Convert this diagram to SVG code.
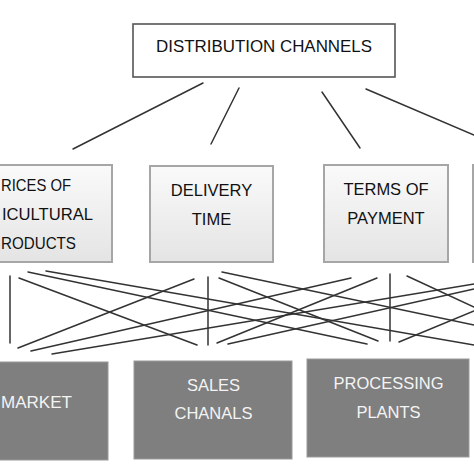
<svg xmlns="http://www.w3.org/2000/svg" width="474" height="474" viewBox="0 0 474 474">
  <defs>
    <linearGradient id="lg" x1="0" y1="0" x2="0" y2="1">
      <stop offset="0" stop-color="#fafafa"/>
      <stop offset="1" stop-color="#e4e4e4"/>
    </linearGradient>
    <style>
      .t { font-family: "Liberation Sans", Arial, sans-serif; font-size: 16.5px; fill: #111111; text-anchor: middle; }
      .ts { font-family: "Liberation Sans", Arial, sans-serif; font-size: 16.5px; fill: #111111; text-anchor: start; }
      .tw { font-family: "Liberation Sans", Arial, sans-serif; font-size: 16.5px; fill: #f4f4f4; text-anchor: middle; }
      .top { fill: #ffffff; stroke: #555555; stroke-width: 1.6; }
      .mid { fill: url(#lg); stroke: #a6a6a6; stroke-width: 2; }
      .bot { fill: #7f7f7f; stroke: #9a9a9a; stroke-width: 1; }
      .c { stroke: #333333; stroke-width: 1.5; fill: none; stroke-linecap: round; }
    </style>
  </defs>
  <rect width="474" height="474" fill="#ffffff"/>

  <g id="connectors">
    <line class="c" x1="203" y1="83" x2="73" y2="149"/>
    <line class="c" x1="239" y1="88" x2="211" y2="144"/>
    <line class="c" x1="322" y1="92" x2="360" y2="148"/>
    <line class="c" x1="366" y1="89" x2="474" y2="135"/>

    <line class="c" x1="10" y1="276" x2="10" y2="343"/>
    <line class="c" x1="19" y1="278" x2="197" y2="345"/>
    <line class="c" x1="28" y1="272" x2="367" y2="344"/>
    <line class="c" x1="46" y1="271" x2="474" y2="345"/>
    <line class="c" x1="18" y1="348" x2="194" y2="279"/>
    <line class="c" x1="31" y1="351" x2="351" y2="278"/>
    <line class="c" x1="52" y1="354" x2="474" y2="284"/>

    <line class="c" x1="208" y1="277" x2="208" y2="345"/>
    <line class="c" x1="222" y1="272" x2="474" y2="325"/>
    <line class="c" x1="219" y1="278" x2="378" y2="341"/>
    <line class="c" x1="217" y1="343" x2="377" y2="278"/>
    <line class="c" x1="228" y1="344" x2="474" y2="289"/>

    <line class="c" x1="390" y1="274" x2="390" y2="341"/>
    <line class="c" x1="407" y1="276" x2="474" y2="307"/>
    <line class="c" x1="399" y1="342" x2="474" y2="311"/>
  </g>

  <g id="distribution-channels">
    <rect class="top" x="133" y="24" width="262" height="53"/>
    <text class="t" x="264" y="52" textLength="216" lengthAdjust="spacingAndGlyphs">DISTRIBUTION CHANNELS</text>
  </g>

  <g id="prices">
    <rect class="mid" x="-60" y="165" width="172" height="97"/>
    <text class="ts" x="1" y="191" textLength="70" lengthAdjust="spacingAndGlyphs">RICES OF</text>
    <text class="ts" x="2" y="220" textLength="91" lengthAdjust="spacingAndGlyphs">ICULTURAL</text>
    <text class="ts" x="1" y="249" textLength="75" lengthAdjust="spacingAndGlyphs">RODUCTS</text>
  </g>

  <g id="delivery-time">
    <rect class="mid" x="150" y="166" width="123" height="96"/>
    <text class="t" x="211.5" y="196">DELIVERY</text>
    <text class="t" x="211.5" y="225">TIME</text>
  </g>

  <g id="terms-of-payment">
    <rect class="mid" x="324" y="165" width="124" height="97"/>
    <text class="t" x="386" y="195">TERMS OF</text>
    <text class="t" x="386" y="224">PAYMENT</text>
  </g>

  <g id="fourth-factor">
    <rect class="mid" x="473" y="165" width="60" height="97"/>
  </g>

  <g id="market">
    <rect class="bot" x="-60" y="362" width="168" height="98"/>
    <text class="tw" x="1" y="408" style="text-anchor:start" textLength="71" lengthAdjust="spacingAndGlyphs">MARKET</text>
  </g>

  <g id="sales-chanals">
    <rect class="bot" x="134" y="361" width="158" height="98"/>
    <text class="tw" x="213.5" y="391">SALES</text>
    <text class="tw" x="213.5" y="419">CHANALS</text>
  </g>

  <g id="processing-plants">
    <rect class="bot" x="307" y="359" width="162" height="98"/>
    <text class="tw" x="388.5" y="389">PROCESSING</text>
    <text class="tw" x="388.5" y="418">PLANTS</text>
  </g>
</svg>
